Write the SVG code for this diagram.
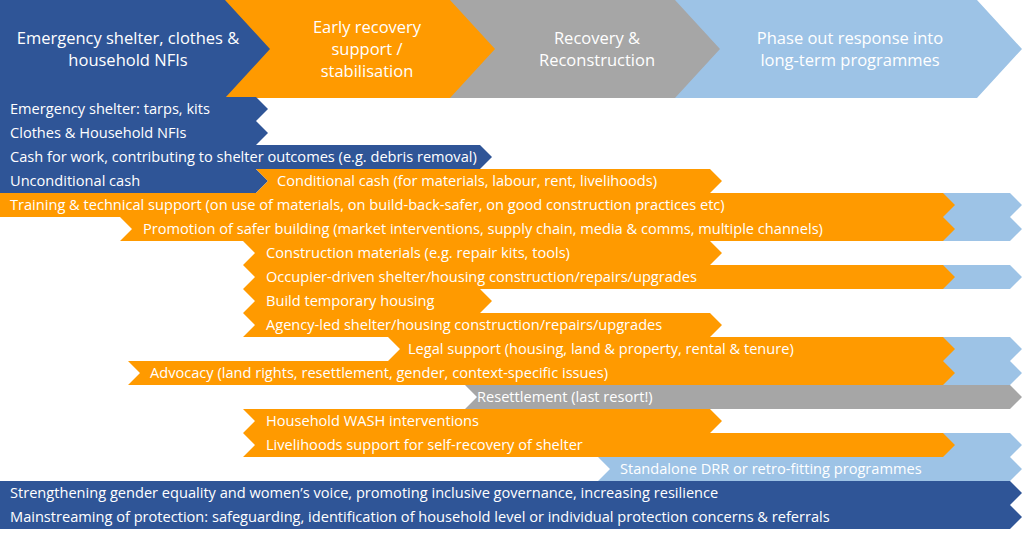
<svg xmlns="http://www.w3.org/2000/svg" width="1024" height="541" viewBox="0 0 1024 541">
<style>
text{font-family:"Open Sans","Liberation Sans",sans-serif;fill:#fff}
.h{font-size:16.5px;text-anchor:middle}
.r{font-size:14.6px}
.db{fill:#2f5597}.or{fill:#ff9a00}.gr{fill:#a6a6a6}.lb{fill:#9dc3e6}
</style>
<rect width="1024" height="541" fill="#fff"/>
<g id="phase-emergency"><polygon class="db" points="0,0 227,0 272,49 227,98 0,98"/><text class="h" x="128" y="44">Emergency shelter, clothes &amp;</text><text class="h" x="128" y="66">household NFIs</text></g>
<g id="phase-early"><polygon class="or" points="225,0 452,0 497,49 452,98 225,98 270,49"/><text class="h" x="367" y="33">Early recovery</text><text class="h" x="367" y="55">support /</text><text class="h" x="367" y="77">stabilisation</text></g>
<g id="phase-recovery"><polygon class="gr" points="450,0 677,0 722,49 677,98 450,98 495,49"/><text class="h" x="597" y="44">Recovery &amp;</text><text class="h" x="597" y="66">Reconstruction</text></g>
<g id="phase-out"><polygon class="lb" points="675,0 977,0 1022,49 977,98 675,98 720,49"/><text class="h" x="850" y="44">Phase out response into</text><text class="h" x="850" y="66">long-term programmes</text></g>
<g id="connectors"></g>
<g id="r1"><polygon class="db" points="0,97 256,97 268,109 256,121 0,121"/><text class="r" x="10" y="114">Emergency shelter: tarps, kits</text></g>
<g id="r2"><polygon class="db" points="0,121 256,121 268,133 256,145 0,145"/><text class="r" x="10" y="138">Clothes &amp; Household NFIs</text></g>
<g id="r3"><polygon class="db" points="0,145 480,145 492,157 480,169 0,169"/><text class="r" x="10" y="162">Cash for work, contributing to shelter outcomes (e.g. debris removal)</text></g>
<g id="r4"><polygon class="db" points="0,169 256,169 268,181 256,193 0,193"/><text class="r" x="10" y="186">Unconditional cash</text>
<polygon class="or" points="256,169 710,169 722,181 710,193 256,193 268,181"/><text class="r" x="277" y="186">Conditional cash (for materials, labour, rent, livelihoods)</text></g>
<g id="r5"><polygon class="lb" points="940,193 1010,193 1022,205 1010,217 940,217 952,205"/><polygon class="or" points="0,193 943,193 955,205 943,217 0,217"/><text class="r" x="10" y="210">Training &amp; technical support (on use of materials, on build-back-safer, on good construction practices etc)</text></g>
<g id="r6"><polygon class="lb" points="940,217 1010,217 1022,229 1010,241 940,241 952,229"/><polygon class="or" points="120,217 943,217 955,229 943,241 120,241 132,229"/><text class="r" x="143" y="234">Promotion of safer building (market interventions, supply chain, media &amp; comms, multiple channels)</text></g>
<g id="r7"><polygon class="or" points="243,241 710,241 722,253 710,265 243,265 255,253"/><text class="r" x="266" y="258">Construction materials (e.g. repair kits, tools)</text></g>
<g id="r8"><polygon class="lb" points="940,265 1010,265 1022,277 1010,289 940,289 952,277"/><polygon class="or" points="243,265 943,265 955,277 943,289 243,289 255,277"/><text class="r" x="266" y="282">Occupier-driven shelter/housing construction/repairs/upgrades</text></g>
<g id="r9"><polygon class="or" points="243,289 480,289 492,301 480,313 243,313 255,301"/><text class="r" x="266" y="306">Build temporary housing</text></g>
<g id="r10"><polygon class="or" points="243,313 710,313 722,325 710,337 243,337 255,325"/><text class="r" x="266" y="330">Agency-led shelter/housing construction/repairs/upgrades</text></g>
<g id="r11"><polygon class="lb" points="940,337 1010,337 1022,349 1010,361 940,361 952,349"/><polygon class="or" points="388,337 943,337 955,349 943,361 388,361 400,349"/><text class="r" x="408" y="354">Legal support (housing, land &amp; property, rental &amp; tenure)</text></g>
<g id="r12"><polygon class="lb" points="940,361 1010,361 1022,373 1010,385 940,385 952,373"/><polygon class="or" points="128,361 943,361 955,373 943,385 128,385 140,373"/><text class="r" x="150" y="378">Advocacy (land rights, resettlement, gender, context-specific issues)</text></g>
<g id="r13"><polygon class="gr" points="465,385 1010,385 1022,397 1010,409 465,409 477,397"/><text class="r" x="477" y="402">Resettlement (last resort!)</text></g>
<g id="r14"><polygon class="or" points="243,409 710,409 722,421 710,433 243,433 255,421"/><text class="r" x="266" y="426">Household WASH interventions</text></g>
<g id="r15"><polygon class="lb" points="940,433 1010,433 1022,445 1010,457 940,457 952,445"/><polygon class="or" points="243,433 943,433 955,445 943,457 243,457 255,445"/><text class="r" x="266" y="450">Livelihoods support for self-recovery of shelter</text></g>
<g id="r16"><polygon class="lb" points="598,457 1010,457 1022,469 1010,481 598,481 610,469"/><text class="r" x="620" y="474">Standalone DRR or retro-fitting programmes</text></g>
<g id="r17"><polygon class="db" points="0,481 1010,481 1022,493 1010,505 0,505"/><text class="r" x="10" y="498">Strengthening gender equality and women’s voice, promoting inclusive governance, increasing resilience</text></g>
<g id="r18"><polygon class="db" points="0,505 1010,505 1022,517 1010,529 0,529"/><text class="r" x="10" y="522">Mainstreaming of protection: safeguarding, identification of household level or individual protection concerns &amp; referrals</text></g>
</svg>
